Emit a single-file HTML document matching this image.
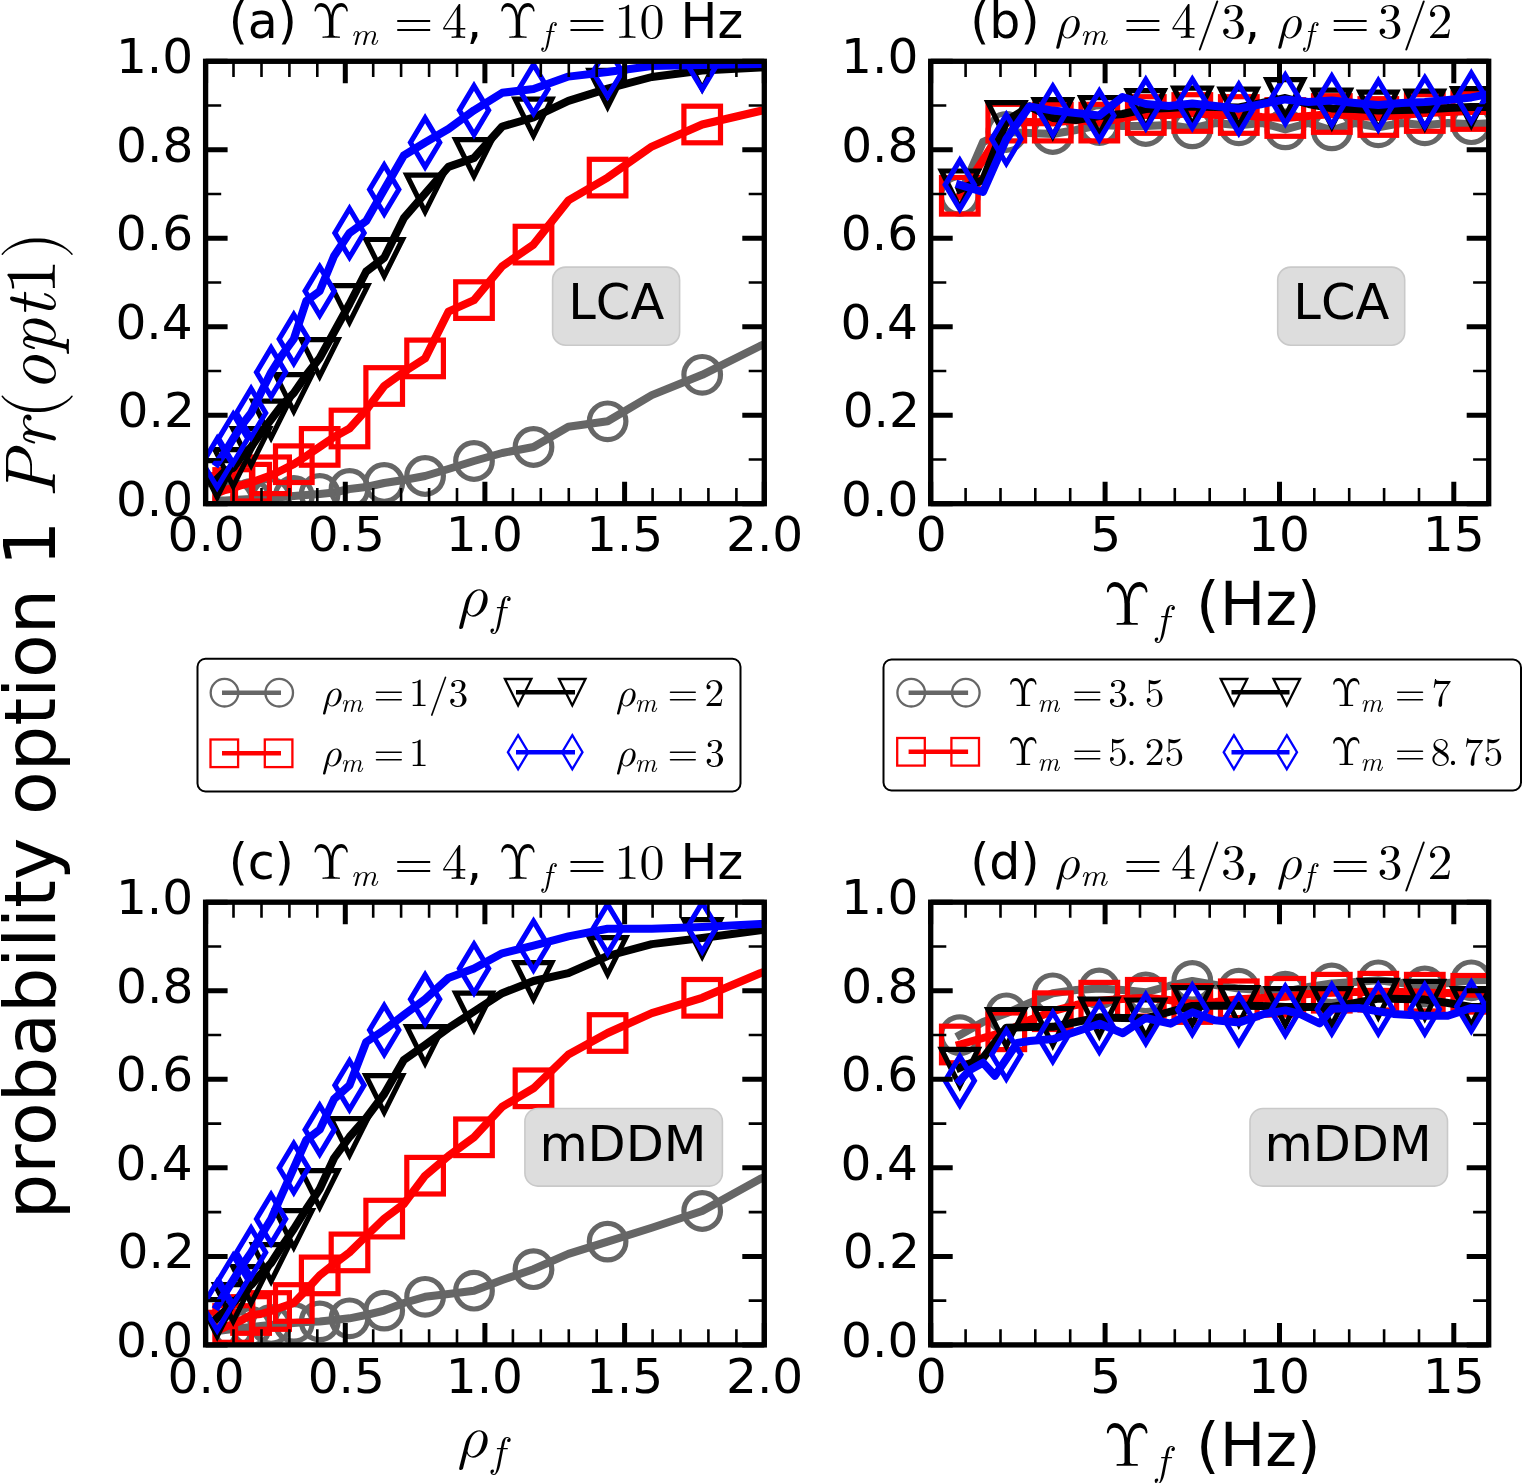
<!DOCTYPE html>
<html><head><meta charset="utf-8"><title>figure</title><style>html,body{margin:0;padding:0;background:#fff;}svg{display:block;}</style></head><body>
<svg width="1524" height="1483" viewBox="0 0 1524 1483">
<rect x="0" y="0" width="1524" height="1483" fill="#ffffff"/>
<defs>
<clipPath id="clipa"><rect x="205.6" y="61.3" width="558.7" height="442.4"/></clipPath>
<clipPath id="clipb"><rect x="930.7" y="61.3" width="558.0" height="442.4"/></clipPath>
<clipPath id="clipc"><rect x="205.6" y="902.2" width="558.7" height="442.7"/></clipPath>
<clipPath id="clipd"><rect x="930.7" y="902.2" width="558.0" height="442.7"/></clipPath>
</defs>
<g clip-path="url(#clipa)">
<polyline points="217.2,500.5 225.0,500.5 233.2,500.0 241.9,499.5 251.1,499.0 260.8,498.5 271.1,498.0 282.1,497.0 293.8,496.0 306.3,495.0 319.7,494.0 334.1,492.5 349.5,489.0 366.2,487.0 384.2,483.0 403.8,480.0 425.1,476.0 448.4,469.0 474.0,461.0 502.2,453.0 533.5,447.0 568.4,426.8 607.6,421.3 651.8,395.1 702.2,374.8 760.1,346.0 827.4,318.0" fill="none" stroke="#666666" stroke-width="8.0" stroke-linejoin="round" stroke-linecap="square"/>
<circle cx="217.2" cy="500.5" r="18.30" fill="none" stroke="#666666" stroke-width="5.2"/>
<circle cx="233.2" cy="500.0" r="18.30" fill="none" stroke="#666666" stroke-width="5.2"/>
<circle cx="251.1" cy="499.0" r="18.30" fill="none" stroke="#666666" stroke-width="5.2"/>
<circle cx="271.1" cy="498.0" r="18.30" fill="none" stroke="#666666" stroke-width="5.2"/>
<circle cx="293.8" cy="496.0" r="18.30" fill="none" stroke="#666666" stroke-width="5.2"/>
<circle cx="319.7" cy="494.0" r="18.30" fill="none" stroke="#666666" stroke-width="5.2"/>
<circle cx="349.5" cy="489.0" r="18.30" fill="none" stroke="#666666" stroke-width="5.2"/>
<circle cx="384.2" cy="483.0" r="18.30" fill="none" stroke="#666666" stroke-width="5.2"/>
<circle cx="425.1" cy="476.0" r="18.30" fill="none" stroke="#666666" stroke-width="5.2"/>
<circle cx="474.0" cy="461.0" r="18.30" fill="none" stroke="#666666" stroke-width="5.2"/>
<circle cx="533.5" cy="447.0" r="18.30" fill="none" stroke="#666666" stroke-width="5.2"/>
<circle cx="607.6" cy="421.3" r="18.30" fill="none" stroke="#666666" stroke-width="5.2"/>
<circle cx="702.2" cy="374.8" r="18.30" fill="none" stroke="#666666" stroke-width="5.2"/>
<circle cx="827.4" cy="318.0" r="18.30" fill="none" stroke="#666666" stroke-width="5.2"/>
<polyline points="217.2,493.0 225.0,490.0 233.2,488.0 241.9,485.0 251.1,482.7 260.8,479.0 271.1,475.3 282.1,470.0 293.8,464.2 306.3,456.0 319.7,446.9 334.1,437.0 349.5,428.5 366.2,410.0 384.2,386.0 403.8,372.0 425.1,358.4 448.4,311.7 474.0,300.1 502.2,266.2 533.5,244.6 568.4,200.4 607.6,177.6 651.8,146.6 702.2,124.5 760.1,111.0 827.4,100.0" fill="none" stroke="#ff0000" stroke-width="8.0" stroke-linejoin="round" stroke-linecap="square"/>
<rect x="198.9" y="474.7" width="36.6" height="36.6" fill="none" stroke="#ff0000" stroke-width="5.2" stroke-linejoin="miter"/>
<rect x="214.9" y="469.7" width="36.6" height="36.6" fill="none" stroke="#ff0000" stroke-width="5.2" stroke-linejoin="miter"/>
<rect x="232.8" y="464.4" width="36.6" height="36.6" fill="none" stroke="#ff0000" stroke-width="5.2" stroke-linejoin="miter"/>
<rect x="252.8" y="457.0" width="36.6" height="36.6" fill="none" stroke="#ff0000" stroke-width="5.2" stroke-linejoin="miter"/>
<rect x="275.5" y="445.9" width="36.6" height="36.6" fill="none" stroke="#ff0000" stroke-width="5.2" stroke-linejoin="miter"/>
<rect x="301.4" y="428.6" width="36.6" height="36.6" fill="none" stroke="#ff0000" stroke-width="5.2" stroke-linejoin="miter"/>
<rect x="331.2" y="410.2" width="36.6" height="36.6" fill="none" stroke="#ff0000" stroke-width="5.2" stroke-linejoin="miter"/>
<rect x="365.9" y="367.7" width="36.6" height="36.6" fill="none" stroke="#ff0000" stroke-width="5.2" stroke-linejoin="miter"/>
<rect x="406.8" y="340.1" width="36.6" height="36.6" fill="none" stroke="#ff0000" stroke-width="5.2" stroke-linejoin="miter"/>
<rect x="455.7" y="281.8" width="36.6" height="36.6" fill="none" stroke="#ff0000" stroke-width="5.2" stroke-linejoin="miter"/>
<rect x="515.2" y="226.3" width="36.6" height="36.6" fill="none" stroke="#ff0000" stroke-width="5.2" stroke-linejoin="miter"/>
<rect x="589.3" y="159.3" width="36.6" height="36.6" fill="none" stroke="#ff0000" stroke-width="5.2" stroke-linejoin="miter"/>
<rect x="683.9" y="106.2" width="36.6" height="36.6" fill="none" stroke="#ff0000" stroke-width="5.2" stroke-linejoin="miter"/>
<rect x="809.1" y="81.7" width="36.6" height="36.6" fill="none" stroke="#ff0000" stroke-width="5.2" stroke-linejoin="miter"/>
<polyline points="217.2,479.0 225.0,471.0 233.2,468.0 241.9,456.0 251.1,447.0 260.8,433.0 271.1,419.5 282.1,405.0 293.8,393.0 306.3,375.0 319.7,358.0 334.1,332.0 349.5,304.0 366.2,271.5 384.2,257.8 403.8,218.2 425.1,193.5 448.4,166.9 474.0,158.0 502.2,126.5 533.5,117.5 568.4,100.9 607.6,88.6 651.8,77.0 702.2,70.5 760.1,67.5 827.4,66.5" fill="none" stroke="#000000" stroke-width="8.0" stroke-linejoin="round" stroke-linecap="square"/>
<polygon points="217.2,497.3 198.9,460.7 235.5,460.7" fill="none" stroke="#000000" stroke-width="5.2" stroke-linejoin="miter" stroke-miterlimit="10"/>
<polygon points="233.2,486.3 214.9,449.7 251.5,449.7" fill="none" stroke="#000000" stroke-width="5.2" stroke-linejoin="miter" stroke-miterlimit="10"/>
<polygon points="251.1,465.3 232.8,428.7 269.4,428.7" fill="none" stroke="#000000" stroke-width="5.2" stroke-linejoin="miter" stroke-miterlimit="10"/>
<polygon points="271.1,437.8 252.8,401.2 289.4,401.2" fill="none" stroke="#000000" stroke-width="5.2" stroke-linejoin="miter" stroke-miterlimit="10"/>
<polygon points="293.8,411.3 275.5,374.7 312.1,374.7" fill="none" stroke="#000000" stroke-width="5.2" stroke-linejoin="miter" stroke-miterlimit="10"/>
<polygon points="319.7,376.3 301.4,339.7 338.0,339.7" fill="none" stroke="#000000" stroke-width="5.2" stroke-linejoin="miter" stroke-miterlimit="10"/>
<polygon points="349.5,322.3 331.2,285.7 367.8,285.7" fill="none" stroke="#000000" stroke-width="5.2" stroke-linejoin="miter" stroke-miterlimit="10"/>
<polygon points="384.2,276.1 365.9,239.5 402.5,239.5" fill="none" stroke="#000000" stroke-width="5.2" stroke-linejoin="miter" stroke-miterlimit="10"/>
<polygon points="425.1,211.8 406.8,175.2 443.4,175.2" fill="none" stroke="#000000" stroke-width="5.2" stroke-linejoin="miter" stroke-miterlimit="10"/>
<polygon points="474.0,176.3 455.7,139.7 492.3,139.7" fill="none" stroke="#000000" stroke-width="5.2" stroke-linejoin="miter" stroke-miterlimit="10"/>
<polygon points="533.5,135.8 515.2,99.2 551.8,99.2" fill="none" stroke="#000000" stroke-width="5.2" stroke-linejoin="miter" stroke-miterlimit="10"/>
<polygon points="607.6,106.9 589.3,70.3 625.9,70.3" fill="none" stroke="#000000" stroke-width="5.2" stroke-linejoin="miter" stroke-miterlimit="10"/>
<polygon points="702.2,88.8 683.9,52.2 720.5,52.2" fill="none" stroke="#000000" stroke-width="5.2" stroke-linejoin="miter" stroke-miterlimit="10"/>
<polygon points="827.4,84.8 809.1,48.2 845.7,48.2" fill="none" stroke="#000000" stroke-width="5.2" stroke-linejoin="miter" stroke-miterlimit="10"/>
<polyline points="217.2,463.0 225.0,452.0 233.2,438.6 241.9,425.0 251.1,413.0 260.8,393.0 271.1,372.3 282.1,355.0 293.8,339.0 306.3,301.0 319.7,291.1 334.1,256.0 349.5,232.9 366.2,221.0 384.2,189.5 403.8,155.5 425.1,142.5 448.4,129.0 474.0,110.3 502.2,92.8 533.5,89.0 568.4,76.6 607.6,72.0 651.8,66.0 702.2,65.0 760.1,64.0 827.4,63.0" fill="none" stroke="#0000ff" stroke-width="8.0" stroke-linejoin="round" stroke-linecap="square"/>
<polygon points="217.2,438.6 231.8,463.0 217.2,487.4 202.6,463.0" fill="none" stroke="#0000ff" stroke-width="5.2" stroke-linejoin="miter" stroke-miterlimit="10"/>
<polygon points="233.2,414.2 247.8,438.6 233.2,463.0 218.6,438.6" fill="none" stroke="#0000ff" stroke-width="5.2" stroke-linejoin="miter" stroke-miterlimit="10"/>
<polygon points="251.1,388.6 265.7,413.0 251.1,437.4 236.5,413.0" fill="none" stroke="#0000ff" stroke-width="5.2" stroke-linejoin="miter" stroke-miterlimit="10"/>
<polygon points="271.1,347.9 285.7,372.3 271.1,396.7 256.5,372.3" fill="none" stroke="#0000ff" stroke-width="5.2" stroke-linejoin="miter" stroke-miterlimit="10"/>
<polygon points="293.8,314.6 308.4,339.0 293.8,363.4 279.2,339.0" fill="none" stroke="#0000ff" stroke-width="5.2" stroke-linejoin="miter" stroke-miterlimit="10"/>
<polygon points="319.7,266.7 334.3,291.1 319.7,315.5 305.1,291.1" fill="none" stroke="#0000ff" stroke-width="5.2" stroke-linejoin="miter" stroke-miterlimit="10"/>
<polygon points="349.5,208.5 364.1,232.9 349.5,257.3 334.9,232.9" fill="none" stroke="#0000ff" stroke-width="5.2" stroke-linejoin="miter" stroke-miterlimit="10"/>
<polygon points="384.2,165.1 398.8,189.5 384.2,213.9 369.6,189.5" fill="none" stroke="#0000ff" stroke-width="5.2" stroke-linejoin="miter" stroke-miterlimit="10"/>
<polygon points="425.1,118.1 439.7,142.5 425.1,166.9 410.5,142.5" fill="none" stroke="#0000ff" stroke-width="5.2" stroke-linejoin="miter" stroke-miterlimit="10"/>
<polygon points="474.0,85.9 488.6,110.3 474.0,134.7 459.4,110.3" fill="none" stroke="#0000ff" stroke-width="5.2" stroke-linejoin="miter" stroke-miterlimit="10"/>
<polygon points="533.5,64.6 548.1,89.0 533.5,113.4 518.9,89.0" fill="none" stroke="#0000ff" stroke-width="5.2" stroke-linejoin="miter" stroke-miterlimit="10"/>
<polygon points="607.6,47.6 622.2,72.0 607.6,96.4 593.0,72.0" fill="none" stroke="#0000ff" stroke-width="5.2" stroke-linejoin="miter" stroke-miterlimit="10"/>
<polygon points="702.2,40.6 716.8,65.0 702.2,89.4 687.6,65.0" fill="none" stroke="#0000ff" stroke-width="5.2" stroke-linejoin="miter" stroke-miterlimit="10"/>
<polygon points="827.4,38.6 842.0,63.0 827.4,87.4 812.8,63.0" fill="none" stroke="#0000ff" stroke-width="5.2" stroke-linejoin="miter" stroke-miterlimit="10"/>
</g>
<g clip-path="url(#clipb)">
<polyline points="959.8,195.8 983.0,142.0 1006.3,132.0 1029.5,133.0 1052.8,134.0 1076.0,130.0 1099.3,125.0 1122.5,126.0 1145.8,126.0 1169.0,125.0 1192.3,128.4 1215.5,123.0 1238.8,125.3 1262.0,123.0 1285.3,129.4 1308.5,123.0 1331.8,130.4 1355.0,123.0 1378.3,127.3 1401.5,123.0 1424.8,125.3 1448.0,123.0 1471.3,124.2 1494.5,123.0" fill="none" stroke="#666666" stroke-width="8.0" stroke-linejoin="round" stroke-linecap="square"/>
<circle cx="959.8" cy="195.8" r="18.30" fill="none" stroke="#666666" stroke-width="5.2"/>
<circle cx="1006.3" cy="132.0" r="18.30" fill="none" stroke="#666666" stroke-width="5.2"/>
<circle cx="1052.8" cy="134.0" r="18.30" fill="none" stroke="#666666" stroke-width="5.2"/>
<circle cx="1099.3" cy="125.0" r="18.30" fill="none" stroke="#666666" stroke-width="5.2"/>
<circle cx="1145.8" cy="126.0" r="18.30" fill="none" stroke="#666666" stroke-width="5.2"/>
<circle cx="1192.3" cy="128.4" r="18.30" fill="none" stroke="#666666" stroke-width="5.2"/>
<circle cx="1238.8" cy="125.3" r="18.30" fill="none" stroke="#666666" stroke-width="5.2"/>
<circle cx="1285.3" cy="129.4" r="18.30" fill="none" stroke="#666666" stroke-width="5.2"/>
<circle cx="1331.8" cy="130.4" r="18.30" fill="none" stroke="#666666" stroke-width="5.2"/>
<circle cx="1378.3" cy="127.3" r="18.30" fill="none" stroke="#666666" stroke-width="5.2"/>
<circle cx="1424.8" cy="125.3" r="18.30" fill="none" stroke="#666666" stroke-width="5.2"/>
<circle cx="1471.3" cy="124.2" r="18.30" fill="none" stroke="#666666" stroke-width="5.2"/>
<polyline points="959.8,195.8 983.0,160.0 1006.3,122.6 1029.5,122.0 1052.8,122.6 1076.0,120.0 1099.3,122.6 1122.5,118.0 1145.8,115.0 1169.0,115.0 1192.3,113.0 1215.5,115.0 1238.8,115.0 1262.0,117.0 1285.3,118.0 1308.5,116.0 1331.8,114.0 1355.0,116.0 1378.3,117.0 1401.5,115.0 1424.8,113.0 1448.0,112.0 1471.3,111.0 1494.5,111.0" fill="none" stroke="#ff0000" stroke-width="8.0" stroke-linejoin="round" stroke-linecap="square"/>
<rect x="941.5" y="177.5" width="36.6" height="36.6" fill="none" stroke="#ff0000" stroke-width="5.2" stroke-linejoin="miter"/>
<rect x="988.0" y="104.3" width="36.6" height="36.6" fill="none" stroke="#ff0000" stroke-width="5.2" stroke-linejoin="miter"/>
<rect x="1034.5" y="104.3" width="36.6" height="36.6" fill="none" stroke="#ff0000" stroke-width="5.2" stroke-linejoin="miter"/>
<rect x="1081.0" y="104.3" width="36.6" height="36.6" fill="none" stroke="#ff0000" stroke-width="5.2" stroke-linejoin="miter"/>
<rect x="1127.5" y="96.7" width="36.6" height="36.6" fill="none" stroke="#ff0000" stroke-width="5.2" stroke-linejoin="miter"/>
<rect x="1174.0" y="94.7" width="36.6" height="36.6" fill="none" stroke="#ff0000" stroke-width="5.2" stroke-linejoin="miter"/>
<rect x="1220.5" y="96.7" width="36.6" height="36.6" fill="none" stroke="#ff0000" stroke-width="5.2" stroke-linejoin="miter"/>
<rect x="1267.0" y="99.7" width="36.6" height="36.6" fill="none" stroke="#ff0000" stroke-width="5.2" stroke-linejoin="miter"/>
<rect x="1313.5" y="95.7" width="36.6" height="36.6" fill="none" stroke="#ff0000" stroke-width="5.2" stroke-linejoin="miter"/>
<rect x="1360.0" y="98.7" width="36.6" height="36.6" fill="none" stroke="#ff0000" stroke-width="5.2" stroke-linejoin="miter"/>
<rect x="1406.5" y="94.7" width="36.6" height="36.6" fill="none" stroke="#ff0000" stroke-width="5.2" stroke-linejoin="miter"/>
<rect x="1453.0" y="92.7" width="36.6" height="36.6" fill="none" stroke="#ff0000" stroke-width="5.2" stroke-linejoin="miter"/>
<polyline points="959.8,189.3 983.0,180.0 1006.3,121.0 1029.5,106.4 1052.8,118.0 1076.0,120.0 1099.3,116.0 1122.5,114.0 1145.8,109.0 1169.0,108.0 1192.3,106.4 1215.5,107.0 1238.8,107.4 1262.0,103.0 1285.3,98.0 1308.5,104.0 1331.8,108.4 1355.0,109.0 1378.3,110.5 1401.5,110.0 1424.8,109.5 1448.0,108.0 1471.3,107.0 1494.5,107.0" fill="none" stroke="#000000" stroke-width="8.0" stroke-linejoin="round" stroke-linecap="square"/>
<polygon points="959.8,207.6 941.5,171.0 978.1,171.0" fill="none" stroke="#000000" stroke-width="5.2" stroke-linejoin="miter" stroke-miterlimit="10"/>
<polygon points="1006.3,139.3 988.0,102.7 1024.6,102.7" fill="none" stroke="#000000" stroke-width="5.2" stroke-linejoin="miter" stroke-miterlimit="10"/>
<polygon points="1052.8,136.3 1034.5,99.7 1071.1,99.7" fill="none" stroke="#000000" stroke-width="5.2" stroke-linejoin="miter" stroke-miterlimit="10"/>
<polygon points="1099.3,134.3 1081.0,97.7 1117.6,97.7" fill="none" stroke="#000000" stroke-width="5.2" stroke-linejoin="miter" stroke-miterlimit="10"/>
<polygon points="1145.8,127.3 1127.5,90.7 1164.1,90.7" fill="none" stroke="#000000" stroke-width="5.2" stroke-linejoin="miter" stroke-miterlimit="10"/>
<polygon points="1192.3,124.7 1174.0,88.1 1210.6,88.1" fill="none" stroke="#000000" stroke-width="5.2" stroke-linejoin="miter" stroke-miterlimit="10"/>
<polygon points="1238.8,125.7 1220.5,89.1 1257.1,89.1" fill="none" stroke="#000000" stroke-width="5.2" stroke-linejoin="miter" stroke-miterlimit="10"/>
<polygon points="1285.3,116.3 1267.0,79.7 1303.6,79.7" fill="none" stroke="#000000" stroke-width="5.2" stroke-linejoin="miter" stroke-miterlimit="10"/>
<polygon points="1331.8,126.7 1313.5,90.1 1350.1,90.1" fill="none" stroke="#000000" stroke-width="5.2" stroke-linejoin="miter" stroke-miterlimit="10"/>
<polygon points="1378.3,128.8 1360.0,92.2 1396.6,92.2" fill="none" stroke="#000000" stroke-width="5.2" stroke-linejoin="miter" stroke-miterlimit="10"/>
<polygon points="1424.8,127.8 1406.5,91.2 1443.1,91.2" fill="none" stroke="#000000" stroke-width="5.2" stroke-linejoin="miter" stroke-miterlimit="10"/>
<polygon points="1471.3,125.3 1453.0,88.7 1489.6,88.7" fill="none" stroke="#000000" stroke-width="5.2" stroke-linejoin="miter" stroke-miterlimit="10"/>
<polyline points="959.8,184.8 983.0,192.0 1006.3,139.1 1029.5,106.4 1052.8,110.6 1076.0,113.0 1099.3,115.5 1122.5,97.0 1145.8,104.0 1169.0,106.0 1192.3,103.6 1215.5,106.0 1238.8,108.7 1262.0,104.0 1285.3,99.4 1308.5,102.0 1331.8,100.5 1355.0,103.0 1378.3,105.0 1401.5,103.0 1424.8,102.1 1448.0,100.0 1471.3,97.4 1494.5,93.0" fill="none" stroke="#0000ff" stroke-width="8.0" stroke-linejoin="round" stroke-linecap="square"/>
<polygon points="959.8,160.4 974.4,184.8 959.8,209.2 945.2,184.8" fill="none" stroke="#0000ff" stroke-width="5.2" stroke-linejoin="miter" stroke-miterlimit="10"/>
<polygon points="1006.3,114.7 1020.9,139.1 1006.3,163.5 991.7,139.1" fill="none" stroke="#0000ff" stroke-width="5.2" stroke-linejoin="miter" stroke-miterlimit="10"/>
<polygon points="1052.8,86.2 1067.4,110.6 1052.8,135.0 1038.2,110.6" fill="none" stroke="#0000ff" stroke-width="5.2" stroke-linejoin="miter" stroke-miterlimit="10"/>
<polygon points="1099.3,91.1 1113.9,115.5 1099.3,139.9 1084.7,115.5" fill="none" stroke="#0000ff" stroke-width="5.2" stroke-linejoin="miter" stroke-miterlimit="10"/>
<polygon points="1145.8,79.6 1160.4,104.0 1145.8,128.4 1131.2,104.0" fill="none" stroke="#0000ff" stroke-width="5.2" stroke-linejoin="miter" stroke-miterlimit="10"/>
<polygon points="1192.3,79.2 1206.9,103.6 1192.3,128.0 1177.7,103.6" fill="none" stroke="#0000ff" stroke-width="5.2" stroke-linejoin="miter" stroke-miterlimit="10"/>
<polygon points="1238.8,84.3 1253.4,108.7 1238.8,133.1 1224.2,108.7" fill="none" stroke="#0000ff" stroke-width="5.2" stroke-linejoin="miter" stroke-miterlimit="10"/>
<polygon points="1285.3,75.0 1299.9,99.4 1285.3,123.8 1270.7,99.4" fill="none" stroke="#0000ff" stroke-width="5.2" stroke-linejoin="miter" stroke-miterlimit="10"/>
<polygon points="1331.8,76.1 1346.4,100.5 1331.8,124.9 1317.2,100.5" fill="none" stroke="#0000ff" stroke-width="5.2" stroke-linejoin="miter" stroke-miterlimit="10"/>
<polygon points="1378.3,80.6 1392.9,105.0 1378.3,129.4 1363.7,105.0" fill="none" stroke="#0000ff" stroke-width="5.2" stroke-linejoin="miter" stroke-miterlimit="10"/>
<polygon points="1424.8,77.7 1439.4,102.1 1424.8,126.5 1410.2,102.1" fill="none" stroke="#0000ff" stroke-width="5.2" stroke-linejoin="miter" stroke-miterlimit="10"/>
<polygon points="1471.3,73.0 1485.9,97.4 1471.3,121.8 1456.7,97.4" fill="none" stroke="#0000ff" stroke-width="5.2" stroke-linejoin="miter" stroke-miterlimit="10"/>
</g>
<g clip-path="url(#clipc)">
<polyline points="217.2,1331.0 225.0,1330.0 233.2,1329.0 241.9,1328.0 251.1,1327.0 260.8,1326.0 271.1,1325.0 282.1,1324.0 293.8,1322.9 306.3,1322.0 319.7,1321.4 334.1,1320.0 349.5,1318.3 366.2,1315.0 384.2,1310.6 403.8,1303.0 425.1,1296.8 448.4,1294.0 474.0,1290.7 502.2,1280.0 533.5,1269.2 568.4,1253.9 607.6,1241.6 651.8,1227.8 702.2,1211.0 760.1,1179.0 827.4,1150.0" fill="none" stroke="#666666" stroke-width="8.0" stroke-linejoin="round" stroke-linecap="square"/>
<circle cx="217.2" cy="1331.0" r="18.30" fill="none" stroke="#666666" stroke-width="5.2"/>
<circle cx="233.2" cy="1329.0" r="18.30" fill="none" stroke="#666666" stroke-width="5.2"/>
<circle cx="251.1" cy="1327.0" r="18.30" fill="none" stroke="#666666" stroke-width="5.2"/>
<circle cx="271.1" cy="1325.0" r="18.30" fill="none" stroke="#666666" stroke-width="5.2"/>
<circle cx="293.8" cy="1322.9" r="18.30" fill="none" stroke="#666666" stroke-width="5.2"/>
<circle cx="319.7" cy="1321.4" r="18.30" fill="none" stroke="#666666" stroke-width="5.2"/>
<circle cx="349.5" cy="1318.3" r="18.30" fill="none" stroke="#666666" stroke-width="5.2"/>
<circle cx="384.2" cy="1310.6" r="18.30" fill="none" stroke="#666666" stroke-width="5.2"/>
<circle cx="425.1" cy="1296.8" r="18.30" fill="none" stroke="#666666" stroke-width="5.2"/>
<circle cx="474.0" cy="1290.7" r="18.30" fill="none" stroke="#666666" stroke-width="5.2"/>
<circle cx="533.5" cy="1269.2" r="18.30" fill="none" stroke="#666666" stroke-width="5.2"/>
<circle cx="607.6" cy="1241.6" r="18.30" fill="none" stroke="#666666" stroke-width="5.2"/>
<circle cx="702.2" cy="1211.0" r="18.30" fill="none" stroke="#666666" stroke-width="5.2"/>
<circle cx="827.4" cy="1150.0" r="18.30" fill="none" stroke="#666666" stroke-width="5.2"/>
<polyline points="217.2,1330.6 225.0,1327.0 233.2,1324.0 241.9,1320.0 251.1,1315.0 260.8,1314.0 271.1,1311.0 282.1,1307.0 293.8,1303.0 306.3,1290.0 319.7,1275.4 334.1,1264.0 349.5,1252.4 366.2,1236.0 384.2,1218.6 403.8,1204.0 425.1,1175.7 448.4,1156.0 474.0,1137.3 502.2,1106.7 533.5,1088.3 568.4,1054.5 607.6,1033.0 651.8,1013.1 702.2,997.8 760.1,973.2 827.4,950.0" fill="none" stroke="#ff0000" stroke-width="8.0" stroke-linejoin="round" stroke-linecap="square"/>
<rect x="198.9" y="1312.3" width="36.6" height="36.6" fill="none" stroke="#ff0000" stroke-width="5.2" stroke-linejoin="miter"/>
<rect x="214.9" y="1305.7" width="36.6" height="36.6" fill="none" stroke="#ff0000" stroke-width="5.2" stroke-linejoin="miter"/>
<rect x="232.8" y="1296.7" width="36.6" height="36.6" fill="none" stroke="#ff0000" stroke-width="5.2" stroke-linejoin="miter"/>
<rect x="252.8" y="1292.7" width="36.6" height="36.6" fill="none" stroke="#ff0000" stroke-width="5.2" stroke-linejoin="miter"/>
<rect x="275.5" y="1284.7" width="36.6" height="36.6" fill="none" stroke="#ff0000" stroke-width="5.2" stroke-linejoin="miter"/>
<rect x="301.4" y="1257.1" width="36.6" height="36.6" fill="none" stroke="#ff0000" stroke-width="5.2" stroke-linejoin="miter"/>
<rect x="331.2" y="1234.1" width="36.6" height="36.6" fill="none" stroke="#ff0000" stroke-width="5.2" stroke-linejoin="miter"/>
<rect x="365.9" y="1200.3" width="36.6" height="36.6" fill="none" stroke="#ff0000" stroke-width="5.2" stroke-linejoin="miter"/>
<rect x="406.8" y="1157.4" width="36.6" height="36.6" fill="none" stroke="#ff0000" stroke-width="5.2" stroke-linejoin="miter"/>
<rect x="455.7" y="1119.0" width="36.6" height="36.6" fill="none" stroke="#ff0000" stroke-width="5.2" stroke-linejoin="miter"/>
<rect x="515.2" y="1070.0" width="36.6" height="36.6" fill="none" stroke="#ff0000" stroke-width="5.2" stroke-linejoin="miter"/>
<rect x="589.3" y="1014.7" width="36.6" height="36.6" fill="none" stroke="#ff0000" stroke-width="5.2" stroke-linejoin="miter"/>
<rect x="683.9" y="979.5" width="36.6" height="36.6" fill="none" stroke="#ff0000" stroke-width="5.2" stroke-linejoin="miter"/>
<rect x="809.1" y="931.7" width="36.6" height="36.6" fill="none" stroke="#ff0000" stroke-width="5.2" stroke-linejoin="miter"/>
<polyline points="217.2,1318.0 225.0,1311.0 233.2,1303.0 241.9,1294.0 251.1,1285.0 260.8,1274.0 271.1,1263.0 282.1,1246.0 293.8,1229.0 306.3,1209.0 319.7,1189.0 334.1,1158.0 349.5,1137.0 366.2,1118.0 384.2,1094.0 403.8,1060.0 425.1,1045.0 448.4,1028.0 474.0,1011.5 502.2,993.2 533.5,981.0 568.4,973.2 607.6,956.0 651.8,944.1 702.2,938.0 760.1,930.3 827.4,927.0" fill="none" stroke="#000000" stroke-width="8.0" stroke-linejoin="round" stroke-linecap="square"/>
<polygon points="217.2,1336.3 198.9,1299.7 235.5,1299.7" fill="none" stroke="#000000" stroke-width="5.2" stroke-linejoin="miter" stroke-miterlimit="10"/>
<polygon points="233.2,1321.3 214.9,1284.7 251.5,1284.7" fill="none" stroke="#000000" stroke-width="5.2" stroke-linejoin="miter" stroke-miterlimit="10"/>
<polygon points="251.1,1303.3 232.8,1266.7 269.4,1266.7" fill="none" stroke="#000000" stroke-width="5.2" stroke-linejoin="miter" stroke-miterlimit="10"/>
<polygon points="271.1,1281.3 252.8,1244.7 289.4,1244.7" fill="none" stroke="#000000" stroke-width="5.2" stroke-linejoin="miter" stroke-miterlimit="10"/>
<polygon points="293.8,1247.3 275.5,1210.7 312.1,1210.7" fill="none" stroke="#000000" stroke-width="5.2" stroke-linejoin="miter" stroke-miterlimit="10"/>
<polygon points="319.7,1207.3 301.4,1170.7 338.0,1170.7" fill="none" stroke="#000000" stroke-width="5.2" stroke-linejoin="miter" stroke-miterlimit="10"/>
<polygon points="349.5,1155.3 331.2,1118.7 367.8,1118.7" fill="none" stroke="#000000" stroke-width="5.2" stroke-linejoin="miter" stroke-miterlimit="10"/>
<polygon points="384.2,1112.3 365.9,1075.7 402.5,1075.7" fill="none" stroke="#000000" stroke-width="5.2" stroke-linejoin="miter" stroke-miterlimit="10"/>
<polygon points="425.1,1063.3 406.8,1026.7 443.4,1026.7" fill="none" stroke="#000000" stroke-width="5.2" stroke-linejoin="miter" stroke-miterlimit="10"/>
<polygon points="474.0,1029.8 455.7,993.2 492.3,993.2" fill="none" stroke="#000000" stroke-width="5.2" stroke-linejoin="miter" stroke-miterlimit="10"/>
<polygon points="533.5,999.3 515.2,962.7 551.8,962.7" fill="none" stroke="#000000" stroke-width="5.2" stroke-linejoin="miter" stroke-miterlimit="10"/>
<polygon points="607.6,974.3 589.3,937.7 625.9,937.7" fill="none" stroke="#000000" stroke-width="5.2" stroke-linejoin="miter" stroke-miterlimit="10"/>
<polygon points="702.2,956.3 683.9,919.7 720.5,919.7" fill="none" stroke="#000000" stroke-width="5.2" stroke-linejoin="miter" stroke-miterlimit="10"/>
<polygon points="827.4,945.3 809.1,908.7 845.7,908.7" fill="none" stroke="#000000" stroke-width="5.2" stroke-linejoin="miter" stroke-miterlimit="10"/>
<polyline points="217.2,1306.0 225.0,1293.0 233.2,1280.0 241.9,1266.0 251.1,1252.5 260.8,1236.0 271.1,1219.0 282.1,1194.0 293.8,1168.0 306.3,1140.0 319.7,1129.7 334.1,1099.0 349.5,1085.2 366.2,1042.0 384.2,1030.0 403.8,1015.0 425.1,999.3 448.4,978.0 474.0,968.6 502.2,953.3 533.5,945.6 568.4,936.4 607.6,928.7 651.8,928.7 702.2,927.0 760.1,924.1 827.4,922.0" fill="none" stroke="#0000ff" stroke-width="8.0" stroke-linejoin="round" stroke-linecap="square"/>
<polygon points="217.2,1281.6 231.8,1306.0 217.2,1330.4 202.6,1306.0" fill="none" stroke="#0000ff" stroke-width="5.2" stroke-linejoin="miter" stroke-miterlimit="10"/>
<polygon points="233.2,1255.6 247.8,1280.0 233.2,1304.4 218.6,1280.0" fill="none" stroke="#0000ff" stroke-width="5.2" stroke-linejoin="miter" stroke-miterlimit="10"/>
<polygon points="251.1,1228.1 265.7,1252.5 251.1,1276.9 236.5,1252.5" fill="none" stroke="#0000ff" stroke-width="5.2" stroke-linejoin="miter" stroke-miterlimit="10"/>
<polygon points="271.1,1194.6 285.7,1219.0 271.1,1243.4 256.5,1219.0" fill="none" stroke="#0000ff" stroke-width="5.2" stroke-linejoin="miter" stroke-miterlimit="10"/>
<polygon points="293.8,1143.6 308.4,1168.0 293.8,1192.4 279.2,1168.0" fill="none" stroke="#0000ff" stroke-width="5.2" stroke-linejoin="miter" stroke-miterlimit="10"/>
<polygon points="319.7,1105.3 334.3,1129.7 319.7,1154.1 305.1,1129.7" fill="none" stroke="#0000ff" stroke-width="5.2" stroke-linejoin="miter" stroke-miterlimit="10"/>
<polygon points="349.5,1060.8 364.1,1085.2 349.5,1109.6 334.9,1085.2" fill="none" stroke="#0000ff" stroke-width="5.2" stroke-linejoin="miter" stroke-miterlimit="10"/>
<polygon points="384.2,1005.6 398.8,1030.0 384.2,1054.4 369.6,1030.0" fill="none" stroke="#0000ff" stroke-width="5.2" stroke-linejoin="miter" stroke-miterlimit="10"/>
<polygon points="425.1,974.9 439.7,999.3 425.1,1023.7 410.5,999.3" fill="none" stroke="#0000ff" stroke-width="5.2" stroke-linejoin="miter" stroke-miterlimit="10"/>
<polygon points="474.0,944.2 488.6,968.6 474.0,993.0 459.4,968.6" fill="none" stroke="#0000ff" stroke-width="5.2" stroke-linejoin="miter" stroke-miterlimit="10"/>
<polygon points="533.5,921.2 548.1,945.6 533.5,970.0 518.9,945.6" fill="none" stroke="#0000ff" stroke-width="5.2" stroke-linejoin="miter" stroke-miterlimit="10"/>
<polygon points="607.6,904.3 622.2,928.7 607.6,953.1 593.0,928.7" fill="none" stroke="#0000ff" stroke-width="5.2" stroke-linejoin="miter" stroke-miterlimit="10"/>
<polygon points="702.2,902.6 716.8,927.0 702.2,951.4 687.6,927.0" fill="none" stroke="#0000ff" stroke-width="5.2" stroke-linejoin="miter" stroke-miterlimit="10"/>
<polygon points="827.4,897.6 842.0,922.0 827.4,946.4 812.8,922.0" fill="none" stroke="#0000ff" stroke-width="5.2" stroke-linejoin="miter" stroke-miterlimit="10"/>
</g>
<g clip-path="url(#clipd)">
<polyline points="959.8,1035.1 983.0,1022.0 1006.3,1013.3 1029.5,1003.0 1052.8,993.3 1076.0,990.0 1099.3,988.5 1122.5,990.0 1145.8,992.3 1169.0,986.0 1192.3,980.9 1215.5,985.0 1238.8,988.6 1262.0,990.0 1285.3,991.7 1308.5,987.0 1331.8,983.4 1355.0,982.0 1378.3,980.3 1401.5,983.0 1424.8,986.5 1448.0,983.0 1471.3,980.3 1494.5,980.0" fill="none" stroke="#666666" stroke-width="8.0" stroke-linejoin="round" stroke-linecap="square"/>
<circle cx="959.8" cy="1035.1" r="18.30" fill="none" stroke="#666666" stroke-width="5.2"/>
<circle cx="1006.3" cy="1013.3" r="18.30" fill="none" stroke="#666666" stroke-width="5.2"/>
<circle cx="1052.8" cy="993.3" r="18.30" fill="none" stroke="#666666" stroke-width="5.2"/>
<circle cx="1099.3" cy="988.5" r="18.30" fill="none" stroke="#666666" stroke-width="5.2"/>
<circle cx="1145.8" cy="992.3" r="18.30" fill="none" stroke="#666666" stroke-width="5.2"/>
<circle cx="1192.3" cy="980.9" r="18.30" fill="none" stroke="#666666" stroke-width="5.2"/>
<circle cx="1238.8" cy="988.6" r="18.30" fill="none" stroke="#666666" stroke-width="5.2"/>
<circle cx="1285.3" cy="991.7" r="18.30" fill="none" stroke="#666666" stroke-width="5.2"/>
<circle cx="1331.8" cy="983.4" r="18.30" fill="none" stroke="#666666" stroke-width="5.2"/>
<circle cx="1378.3" cy="980.3" r="18.30" fill="none" stroke="#666666" stroke-width="5.2"/>
<circle cx="1424.8" cy="986.5" r="18.30" fill="none" stroke="#666666" stroke-width="5.2"/>
<circle cx="1471.3" cy="980.3" r="18.30" fill="none" stroke="#666666" stroke-width="5.2"/>
<polyline points="959.8,1044.5 983.0,1038.0 1006.3,1031.3 1029.5,1020.0 1052.8,1011.2 1076.0,1005.0 1099.3,1000.7 1122.5,999.0 1145.8,997.8 1169.0,1000.0 1192.3,1004.0 1215.5,1002.0 1238.8,999.3 1262.0,998.0 1285.3,996.8 1308.5,994.0 1331.8,992.7 1355.0,992.0 1378.3,991.7 1401.5,992.0 1424.8,992.7 1448.0,993.0 1471.3,993.8 1494.5,994.0" fill="none" stroke="#ff0000" stroke-width="8.0" stroke-linejoin="round" stroke-linecap="square"/>
<rect x="941.5" y="1026.2" width="36.6" height="36.6" fill="none" stroke="#ff0000" stroke-width="5.2" stroke-linejoin="miter"/>
<rect x="988.0" y="1013.0" width="36.6" height="36.6" fill="none" stroke="#ff0000" stroke-width="5.2" stroke-linejoin="miter"/>
<rect x="1034.5" y="992.9" width="36.6" height="36.6" fill="none" stroke="#ff0000" stroke-width="5.2" stroke-linejoin="miter"/>
<rect x="1081.0" y="982.4" width="36.6" height="36.6" fill="none" stroke="#ff0000" stroke-width="5.2" stroke-linejoin="miter"/>
<rect x="1127.5" y="979.5" width="36.6" height="36.6" fill="none" stroke="#ff0000" stroke-width="5.2" stroke-linejoin="miter"/>
<rect x="1174.0" y="985.7" width="36.6" height="36.6" fill="none" stroke="#ff0000" stroke-width="5.2" stroke-linejoin="miter"/>
<rect x="1220.5" y="981.0" width="36.6" height="36.6" fill="none" stroke="#ff0000" stroke-width="5.2" stroke-linejoin="miter"/>
<rect x="1267.0" y="978.5" width="36.6" height="36.6" fill="none" stroke="#ff0000" stroke-width="5.2" stroke-linejoin="miter"/>
<rect x="1313.5" y="974.4" width="36.6" height="36.6" fill="none" stroke="#ff0000" stroke-width="5.2" stroke-linejoin="miter"/>
<rect x="1360.0" y="973.4" width="36.6" height="36.6" fill="none" stroke="#ff0000" stroke-width="5.2" stroke-linejoin="miter"/>
<rect x="1406.5" y="974.4" width="36.6" height="36.6" fill="none" stroke="#ff0000" stroke-width="5.2" stroke-linejoin="miter"/>
<rect x="1453.0" y="975.5" width="36.6" height="36.6" fill="none" stroke="#ff0000" stroke-width="5.2" stroke-linejoin="miter"/>
<polyline points="959.8,1067.7 983.0,1058.0 1006.3,1027.8 1029.5,1027.0 1052.8,1026.8 1076.0,1022.0 1099.3,1017.3 1122.5,1018.0 1145.8,1018.3 1169.0,1012.0 1192.3,1005.9 1215.5,1005.8 1238.8,1005.8 1262.0,1006.0 1285.3,1006.9 1308.5,1007.0 1331.8,1006.9 1355.0,1003.0 1378.3,998.6 1401.5,999.0 1424.8,999.6 1448.0,1003.0 1471.3,1006.9 1494.5,1007.0" fill="none" stroke="#000000" stroke-width="8.0" stroke-linejoin="round" stroke-linecap="square"/>
<polygon points="959.8,1086.0 941.5,1049.4 978.1,1049.4" fill="none" stroke="#000000" stroke-width="5.2" stroke-linejoin="miter" stroke-miterlimit="10"/>
<polygon points="1006.3,1046.1 988.0,1009.5 1024.6,1009.5" fill="none" stroke="#000000" stroke-width="5.2" stroke-linejoin="miter" stroke-miterlimit="10"/>
<polygon points="1052.8,1045.1 1034.5,1008.5 1071.1,1008.5" fill="none" stroke="#000000" stroke-width="5.2" stroke-linejoin="miter" stroke-miterlimit="10"/>
<polygon points="1099.3,1035.6 1081.0,999.0 1117.6,999.0" fill="none" stroke="#000000" stroke-width="5.2" stroke-linejoin="miter" stroke-miterlimit="10"/>
<polygon points="1145.8,1036.6 1127.5,1000.0 1164.1,1000.0" fill="none" stroke="#000000" stroke-width="5.2" stroke-linejoin="miter" stroke-miterlimit="10"/>
<polygon points="1192.3,1024.2 1174.0,987.6 1210.6,987.6" fill="none" stroke="#000000" stroke-width="5.2" stroke-linejoin="miter" stroke-miterlimit="10"/>
<polygon points="1238.8,1024.1 1220.5,987.5 1257.1,987.5" fill="none" stroke="#000000" stroke-width="5.2" stroke-linejoin="miter" stroke-miterlimit="10"/>
<polygon points="1285.3,1025.2 1267.0,988.6 1303.6,988.6" fill="none" stroke="#000000" stroke-width="5.2" stroke-linejoin="miter" stroke-miterlimit="10"/>
<polygon points="1331.8,1025.2 1313.5,988.6 1350.1,988.6" fill="none" stroke="#000000" stroke-width="5.2" stroke-linejoin="miter" stroke-miterlimit="10"/>
<polygon points="1378.3,1016.9 1360.0,980.3 1396.6,980.3" fill="none" stroke="#000000" stroke-width="5.2" stroke-linejoin="miter" stroke-miterlimit="10"/>
<polygon points="1424.8,1017.9 1406.5,981.3 1443.1,981.3" fill="none" stroke="#000000" stroke-width="5.2" stroke-linejoin="miter" stroke-miterlimit="10"/>
<polygon points="1471.3,1025.2 1453.0,988.6 1489.6,988.6" fill="none" stroke="#000000" stroke-width="5.2" stroke-linejoin="miter" stroke-miterlimit="10"/>
<polyline points="959.8,1080.8 969.9,1069.9 983.1,1062.7 994.9,1075.8 1017.2,1043.0 1029.5,1041.0 1053.5,1039.0 1077.2,1031.3 1099.7,1023.7 1122.9,1033.2 1145.7,1018.0 1170.5,1023.7 1192.4,1012.3 1214.6,1020.3 1239.3,1022.4 1264.0,1014.0 1285.5,1010.4 1300.0,1014.0 1319.6,1023.5 1332.2,1008.8 1358.7,1008.0 1393.6,1013.9 1422.6,1015.8 1447.8,1015.8 1471.0,1008.0 1495.0,1009.0" fill="none" stroke="#0000ff" stroke-width="8.0" stroke-linejoin="round" stroke-linecap="square"/>
<polygon points="959.8,1056.4 974.4,1080.8 959.8,1105.2 945.2,1080.8" fill="none" stroke="#0000ff" stroke-width="5.2" stroke-linejoin="miter" stroke-miterlimit="10"/>
<polygon points="1006.3,1030.2 1020.9,1054.6 1006.3,1079.0 991.7,1054.6" fill="none" stroke="#0000ff" stroke-width="5.2" stroke-linejoin="miter" stroke-miterlimit="10"/>
<polygon points="1052.8,1012.6 1067.4,1037.0 1052.8,1061.4 1038.2,1037.0" fill="none" stroke="#0000ff" stroke-width="5.2" stroke-linejoin="miter" stroke-miterlimit="10"/>
<polygon points="1099.3,1003.1 1113.9,1027.5 1099.3,1051.9 1084.7,1027.5" fill="none" stroke="#0000ff" stroke-width="5.2" stroke-linejoin="miter" stroke-miterlimit="10"/>
<polygon points="1145.8,994.6 1160.4,1019.0 1145.8,1043.4 1131.2,1019.0" fill="none" stroke="#0000ff" stroke-width="5.2" stroke-linejoin="miter" stroke-miterlimit="10"/>
<polygon points="1192.3,985.4 1206.9,1009.8 1192.3,1034.2 1177.7,1009.8" fill="none" stroke="#0000ff" stroke-width="5.2" stroke-linejoin="miter" stroke-miterlimit="10"/>
<polygon points="1238.8,995.2 1253.4,1019.6 1238.8,1044.0 1224.2,1019.6" fill="none" stroke="#0000ff" stroke-width="5.2" stroke-linejoin="miter" stroke-miterlimit="10"/>
<polygon points="1285.3,986.3 1299.9,1010.7 1285.3,1035.1 1270.7,1010.7" fill="none" stroke="#0000ff" stroke-width="5.2" stroke-linejoin="miter" stroke-miterlimit="10"/>
<polygon points="1331.8,984.8 1346.4,1009.2 1331.8,1033.6 1317.2,1009.2" fill="none" stroke="#0000ff" stroke-width="5.2" stroke-linejoin="miter" stroke-miterlimit="10"/>
<polygon points="1378.3,984.8 1392.9,1009.2 1378.3,1033.6 1363.7,1009.2" fill="none" stroke="#0000ff" stroke-width="5.2" stroke-linejoin="miter" stroke-miterlimit="10"/>
<polygon points="1424.8,984.8 1439.4,1009.2 1424.8,1033.6 1410.2,1009.2" fill="none" stroke="#0000ff" stroke-width="5.2" stroke-linejoin="miter" stroke-miterlimit="10"/>
<polygon points="1471.3,982.2 1485.9,1006.6 1471.3,1031.0 1456.7,1006.6" fill="none" stroke="#0000ff" stroke-width="5.2" stroke-linejoin="miter" stroke-miterlimit="10"/>
</g>
<rect x="552.6" y="267.1" width="127.0" height="78.1" rx="13" ry="13" fill="#dddddd" stroke="#c9c9c9" stroke-width="1.6"/>
<rect x="1277.7" y="267.1" width="127.0" height="78.1" rx="13" ry="13" fill="#dddddd" stroke="#c9c9c9" stroke-width="1.6"/>
<rect x="524.9" y="1108.5" width="197.5" height="77.6" rx="13" ry="13" fill="#dddddd" stroke="#c9c9c9" stroke-width="1.6"/>
<rect x="1250.0" y="1108.5" width="197.5" height="77.6" rx="13" ry="13" fill="#dddddd" stroke="#c9c9c9" stroke-width="1.6"/>
<path d="M233.5,503.7v-15.6M233.5,61.3v15.6M261.5,503.7v-15.6M261.5,61.3v15.6M289.4,503.7v-15.6M289.4,61.3v15.6M317.3,503.7v-15.6M317.3,61.3v15.6M373.2,503.7v-15.6M373.2,61.3v15.6M401.1,503.7v-15.6M401.1,61.3v15.6M429.1,503.7v-15.6M429.1,61.3v15.6M457.0,503.7v-15.6M457.0,61.3v15.6M512.9,503.7v-15.6M512.9,61.3v15.6M540.8,503.7v-15.6M540.8,61.3v15.6M568.8,503.7v-15.6M568.8,61.3v15.6M596.7,503.7v-15.6M596.7,61.3v15.6M652.6,503.7v-15.6M652.6,61.3v15.6M680.5,503.7v-15.6M680.5,61.3v15.6M708.4,503.7v-15.6M708.4,61.3v15.6M736.4,503.7v-15.6M736.4,61.3v15.6M205.6,459.5h15.6M764.3,459.5h-15.6M205.6,371.0h15.6M764.3,371.0h-15.6M205.6,282.5h15.6M764.3,282.5h-15.6M205.6,194.0h15.6M764.3,194.0h-15.6M205.6,105.5h15.6M764.3,105.5h-15.6" stroke="#000" stroke-width="2.6" fill="none"/>
<path d="M205.6,503.7v-22.0M205.6,61.3v22.0M345.3,503.7v-22.0M345.3,61.3v22.0M484.9,503.7v-22.0M484.9,61.3v22.0M624.6,503.7v-22.0M624.6,61.3v22.0M764.3,503.7v-22.0M764.3,61.3v22.0M205.6,503.7h22.0M764.3,503.7h-22.0M205.6,415.2h22.0M764.3,415.2h-22.0M205.6,326.7h22.0M764.3,326.7h-22.0M205.6,238.3h22.0M764.3,238.3h-22.0M205.6,149.8h22.0M764.3,149.8h-22.0M205.6,61.3h22.0M764.3,61.3h-22.0" stroke="#000" stroke-width="5.0" fill="none"/>
<rect x="205.6" y="61.3" width="558.7" height="442.4" fill="none" stroke="#000" stroke-width="5.3" stroke-linejoin="miter"/>
<path d="M965.6,503.7v-15.6M965.6,61.3v15.6M1000.5,503.7v-15.6M1000.5,61.3v15.6M1035.3,503.7v-15.6M1035.3,61.3v15.6M1070.2,503.7v-15.6M1070.2,61.3v15.6M1140.0,503.7v-15.6M1140.0,61.3v15.6M1174.8,503.7v-15.6M1174.8,61.3v15.6M1209.7,503.7v-15.6M1209.7,61.3v15.6M1244.6,503.7v-15.6M1244.6,61.3v15.6M1314.3,503.7v-15.6M1314.3,61.3v15.6M1349.2,503.7v-15.6M1349.2,61.3v15.6M1384.1,503.7v-15.6M1384.1,61.3v15.6M1419.0,503.7v-15.6M1419.0,61.3v15.6M1488.7,503.7v-15.6M1488.7,61.3v15.6M930.7,459.5h15.6M1488.7,459.5h-15.6M930.7,371.0h15.6M1488.7,371.0h-15.6M930.7,282.5h15.6M1488.7,282.5h-15.6M930.7,194.0h15.6M1488.7,194.0h-15.6M930.7,105.5h15.6M1488.7,105.5h-15.6" stroke="#000" stroke-width="2.6" fill="none"/>
<path d="M930.7,503.7v-22.0M930.7,61.3v22.0M1105.1,503.7v-22.0M1105.1,61.3v22.0M1279.5,503.7v-22.0M1279.5,61.3v22.0M1453.8,503.7v-22.0M1453.8,61.3v22.0M930.7,503.7h22.0M1488.7,503.7h-22.0M930.7,415.2h22.0M1488.7,415.2h-22.0M930.7,326.7h22.0M1488.7,326.7h-22.0M930.7,238.3h22.0M1488.7,238.3h-22.0M930.7,149.8h22.0M1488.7,149.8h-22.0M930.7,61.3h22.0M1488.7,61.3h-22.0" stroke="#000" stroke-width="5.0" fill="none"/>
<rect x="930.7" y="61.3" width="558.0" height="442.4" fill="none" stroke="#000" stroke-width="5.3" stroke-linejoin="miter"/>
<path d="M233.5,1344.9v-15.6M233.5,902.2v15.6M261.5,1344.9v-15.6M261.5,902.2v15.6M289.4,1344.9v-15.6M289.4,902.2v15.6M317.3,1344.9v-15.6M317.3,902.2v15.6M373.2,1344.9v-15.6M373.2,902.2v15.6M401.1,1344.9v-15.6M401.1,902.2v15.6M429.1,1344.9v-15.6M429.1,902.2v15.6M457.0,1344.9v-15.6M457.0,902.2v15.6M512.9,1344.9v-15.6M512.9,902.2v15.6M540.8,1344.9v-15.6M540.8,902.2v15.6M568.8,1344.9v-15.6M568.8,902.2v15.6M596.7,1344.9v-15.6M596.7,902.2v15.6M652.6,1344.9v-15.6M652.6,902.2v15.6M680.5,1344.9v-15.6M680.5,902.2v15.6M708.4,1344.9v-15.6M708.4,902.2v15.6M736.4,1344.9v-15.6M736.4,902.2v15.6M205.6,1300.6h15.6M764.3,1300.6h-15.6M205.6,1212.1h15.6M764.3,1212.1h-15.6M205.6,1123.6h15.6M764.3,1123.6h-15.6M205.6,1035.0h15.6M764.3,1035.0h-15.6M205.6,946.5h15.6M764.3,946.5h-15.6" stroke="#000" stroke-width="2.6" fill="none"/>
<path d="M205.6,1344.9v-22.0M205.6,902.2v22.0M345.3,1344.9v-22.0M345.3,902.2v22.0M484.9,1344.9v-22.0M484.9,902.2v22.0M624.6,1344.9v-22.0M624.6,902.2v22.0M764.3,1344.9v-22.0M764.3,902.2v22.0M205.6,1344.9h22.0M764.3,1344.9h-22.0M205.6,1256.4h22.0M764.3,1256.4h-22.0M205.6,1167.8h22.0M764.3,1167.8h-22.0M205.6,1079.3h22.0M764.3,1079.3h-22.0M205.6,990.7h22.0M764.3,990.7h-22.0M205.6,902.2h22.0M764.3,902.2h-22.0" stroke="#000" stroke-width="5.0" fill="none"/>
<rect x="205.6" y="902.2" width="558.7" height="442.7" fill="none" stroke="#000" stroke-width="5.3" stroke-linejoin="miter"/>
<path d="M965.6,1344.9v-15.6M965.6,902.2v15.6M1000.5,1344.9v-15.6M1000.5,902.2v15.6M1035.3,1344.9v-15.6M1035.3,902.2v15.6M1070.2,1344.9v-15.6M1070.2,902.2v15.6M1140.0,1344.9v-15.6M1140.0,902.2v15.6M1174.8,1344.9v-15.6M1174.8,902.2v15.6M1209.7,1344.9v-15.6M1209.7,902.2v15.6M1244.6,1344.9v-15.6M1244.6,902.2v15.6M1314.3,1344.9v-15.6M1314.3,902.2v15.6M1349.2,1344.9v-15.6M1349.2,902.2v15.6M1384.1,1344.9v-15.6M1384.1,902.2v15.6M1419.0,1344.9v-15.6M1419.0,902.2v15.6M1488.7,1344.9v-15.6M1488.7,902.2v15.6M930.7,1300.6h15.6M1488.7,1300.6h-15.6M930.7,1212.1h15.6M1488.7,1212.1h-15.6M930.7,1123.6h15.6M1488.7,1123.6h-15.6M930.7,1035.0h15.6M1488.7,1035.0h-15.6M930.7,946.5h15.6M1488.7,946.5h-15.6" stroke="#000" stroke-width="2.6" fill="none"/>
<path d="M930.7,1344.9v-22.0M930.7,902.2v22.0M1105.1,1344.9v-22.0M1105.1,902.2v22.0M1279.5,1344.9v-22.0M1279.5,902.2v22.0M1453.8,1344.9v-22.0M1453.8,902.2v22.0M930.7,1344.9h22.0M1488.7,1344.9h-22.0M930.7,1256.4h22.0M1488.7,1256.4h-22.0M930.7,1167.8h22.0M1488.7,1167.8h-22.0M930.7,1079.3h22.0M1488.7,1079.3h-22.0M930.7,990.7h22.0M1488.7,990.7h-22.0M930.7,902.2h22.0M1488.7,902.2h-22.0" stroke="#000" stroke-width="5.0" fill="none"/>
<rect x="930.7" y="902.2" width="558.0" height="442.7" fill="none" stroke="#000" stroke-width="5.3" stroke-linejoin="miter"/>
<text x="115.94" y="515.50" font-family="DejaVu Sans, Liberation Sans, sans-serif" font-size="48.6">0.0</text>
<text x="117.57" y="427.02" font-family="DejaVu Sans, Liberation Sans, sans-serif" font-size="48.6">0.2</text>
<text x="115.44" y="338.54" font-family="DejaVu Sans, Liberation Sans, sans-serif" font-size="48.6">0.4</text>
<text x="115.77" y="250.06" font-family="DejaVu Sans, Liberation Sans, sans-serif" font-size="48.6">0.6</text>
<text x="116.03" y="161.58" font-family="DejaVu Sans, Liberation Sans, sans-serif" font-size="48.6">0.8</text>
<text x="115.94" y="73.10" font-family="DejaVu Sans, Liberation Sans, sans-serif" font-size="48.6">1.0</text>
<text x="167.47" y="551.30" font-family="DejaVu Sans, Liberation Sans, sans-serif" font-size="48.6">0.0</text>
<text x="307.65" y="551.30" font-family="DejaVu Sans, Liberation Sans, sans-serif" font-size="48.6">0.5</text>
<text x="445.75" y="551.30" font-family="DejaVu Sans, Liberation Sans, sans-serif" font-size="48.6">1.0</text>
<text x="585.93" y="551.30" font-family="DejaVu Sans, Liberation Sans, sans-serif" font-size="48.6">1.5</text>
<text x="725.99" y="551.30" font-family="DejaVu Sans, Liberation Sans, sans-serif" font-size="48.6">2.0</text>
<text x="841.04" y="515.50" font-family="DejaVu Sans, Liberation Sans, sans-serif" font-size="48.6">0.0</text>
<text x="842.67" y="427.02" font-family="DejaVu Sans, Liberation Sans, sans-serif" font-size="48.6">0.2</text>
<text x="840.54" y="338.54" font-family="DejaVu Sans, Liberation Sans, sans-serif" font-size="48.6">0.4</text>
<text x="840.87" y="250.06" font-family="DejaVu Sans, Liberation Sans, sans-serif" font-size="48.6">0.6</text>
<text x="841.13" y="161.58" font-family="DejaVu Sans, Liberation Sans, sans-serif" font-size="48.6">0.8</text>
<text x="841.04" y="73.10" font-family="DejaVu Sans, Liberation Sans, sans-serif" font-size="48.6">1.0</text>
<text x="915.75" y="551.30" font-family="DejaVu Sans, Liberation Sans, sans-serif" font-size="48.6">0</text>
<text x="1090.36" y="551.30" font-family="DejaVu Sans, Liberation Sans, sans-serif" font-size="48.6">5</text>
<text x="1247.97" y="551.30" font-family="DejaVu Sans, Liberation Sans, sans-serif" font-size="48.6">10</text>
<text x="1422.86" y="551.30" font-family="DejaVu Sans, Liberation Sans, sans-serif" font-size="48.6">15</text>
<text x="115.94" y="1356.70" font-family="DejaVu Sans, Liberation Sans, sans-serif" font-size="48.6">0.0</text>
<text x="117.57" y="1268.16" font-family="DejaVu Sans, Liberation Sans, sans-serif" font-size="48.6">0.2</text>
<text x="115.44" y="1179.62" font-family="DejaVu Sans, Liberation Sans, sans-serif" font-size="48.6">0.4</text>
<text x="115.77" y="1091.08" font-family="DejaVu Sans, Liberation Sans, sans-serif" font-size="48.6">0.6</text>
<text x="116.03" y="1002.54" font-family="DejaVu Sans, Liberation Sans, sans-serif" font-size="48.6">0.8</text>
<text x="115.94" y="914.00" font-family="DejaVu Sans, Liberation Sans, sans-serif" font-size="48.6">1.0</text>
<text x="167.47" y="1392.50" font-family="DejaVu Sans, Liberation Sans, sans-serif" font-size="48.6">0.0</text>
<text x="307.65" y="1392.50" font-family="DejaVu Sans, Liberation Sans, sans-serif" font-size="48.6">0.5</text>
<text x="445.75" y="1392.50" font-family="DejaVu Sans, Liberation Sans, sans-serif" font-size="48.6">1.0</text>
<text x="585.93" y="1392.50" font-family="DejaVu Sans, Liberation Sans, sans-serif" font-size="48.6">1.5</text>
<text x="725.99" y="1392.50" font-family="DejaVu Sans, Liberation Sans, sans-serif" font-size="48.6">2.0</text>
<text x="841.04" y="1356.70" font-family="DejaVu Sans, Liberation Sans, sans-serif" font-size="48.6">0.0</text>
<text x="842.67" y="1268.16" font-family="DejaVu Sans, Liberation Sans, sans-serif" font-size="48.6">0.2</text>
<text x="840.54" y="1179.62" font-family="DejaVu Sans, Liberation Sans, sans-serif" font-size="48.6">0.4</text>
<text x="840.87" y="1091.08" font-family="DejaVu Sans, Liberation Sans, sans-serif" font-size="48.6">0.6</text>
<text x="841.13" y="1002.54" font-family="DejaVu Sans, Liberation Sans, sans-serif" font-size="48.6">0.8</text>
<text x="841.04" y="914.00" font-family="DejaVu Sans, Liberation Sans, sans-serif" font-size="48.6">1.0</text>
<text x="915.75" y="1392.50" font-family="DejaVu Sans, Liberation Sans, sans-serif" font-size="48.6">0</text>
<text x="1090.36" y="1392.50" font-family="DejaVu Sans, Liberation Sans, sans-serif" font-size="48.6">5</text>
<text x="1247.97" y="1392.50" font-family="DejaVu Sans, Liberation Sans, sans-serif" font-size="48.6">10</text>
<text x="1422.86" y="1392.50" font-family="DejaVu Sans, Liberation Sans, sans-serif" font-size="48.6">15</text>
<text x="228.69" y="37.50" font-family="DejaVu Sans, Liberation Sans, sans-serif" font-size="49">(a)</text>
<text x="311.70" y="37.50" font-family="Latin Modern Math, DejaVu Serif, serif" font-size="50">Υ</text>
<text x="350.56" y="45.20" font-family="Latin Modern Roman, DejaVu Serif, Liberation Serif, serif" font-size="33" font-style="italic">m</text>
<text x="394.20" y="37.50" font-family="Latin Modern Math, DejaVu Serif, serif" font-size="50">=</text>
<text x="441.80" y="37.50" font-family="Latin Modern Math, DejaVu Serif, serif" font-size="50">4</text>
<text x="466.62" y="37.50" font-family="DejaVu Sans, Liberation Sans, sans-serif" font-size="49">,</text>
<text x="498.40" y="37.50" font-family="Latin Modern Math, DejaVu Serif, serif" font-size="50">Υ</text>
<text x="542.12" y="45.20" font-family="Latin Modern Roman, DejaVu Serif, Liberation Serif, serif" font-size="33" font-style="italic">f</text>
<text x="567.50" y="37.50" font-family="Latin Modern Math, DejaVu Serif, serif" font-size="50">=</text>
<text x="614.45" y="37.50" font-family="Latin Modern Math, DejaVu Serif, serif" font-size="50">10</text>
<text x="680.59" y="37.50" font-family="DejaVu Sans, Liberation Sans, sans-serif" font-size="49">Hz</text>
<text x="228.69" y="878.50" font-family="DejaVu Sans, Liberation Sans, sans-serif" font-size="49">(c)</text>
<text x="311.70" y="878.50" font-family="Latin Modern Math, DejaVu Serif, serif" font-size="50">Υ</text>
<text x="350.56" y="886.20" font-family="Latin Modern Roman, DejaVu Serif, Liberation Serif, serif" font-size="33" font-style="italic">m</text>
<text x="394.20" y="878.50" font-family="Latin Modern Math, DejaVu Serif, serif" font-size="50">=</text>
<text x="441.80" y="878.50" font-family="Latin Modern Math, DejaVu Serif, serif" font-size="50">4</text>
<text x="466.62" y="878.50" font-family="DejaVu Sans, Liberation Sans, sans-serif" font-size="49">,</text>
<text x="498.40" y="878.50" font-family="Latin Modern Math, DejaVu Serif, serif" font-size="50">Υ</text>
<text x="542.12" y="886.20" font-family="Latin Modern Roman, DejaVu Serif, Liberation Serif, serif" font-size="33" font-style="italic">f</text>
<text x="567.50" y="878.50" font-family="Latin Modern Math, DejaVu Serif, serif" font-size="50">=</text>
<text x="614.45" y="878.50" font-family="Latin Modern Math, DejaVu Serif, serif" font-size="50">10</text>
<text x="680.59" y="878.50" font-family="DejaVu Sans, Liberation Sans, sans-serif" font-size="49">Hz</text>
<text x="970.19" y="37.50" font-family="DejaVu Sans, Liberation Sans, sans-serif" font-size="49">(b)</text>
<text x="1055.36" y="37.50" font-family="Latin Modern Math, DejaVu Serif, serif" font-size="50" font-style="italic">ρ</text>
<text x="1079.96" y="45.20" font-family="Latin Modern Roman, DejaVu Serif, Liberation Serif, serif" font-size="33" font-style="italic">m</text>
<text x="1123.40" y="37.50" font-family="Latin Modern Math, DejaVu Serif, serif" font-size="50">=</text>
<text x="1170.90" y="37.50" font-family="Latin Modern Math, DejaVu Serif, serif" font-size="50">4/3</text>
<text x="1244.52" y="37.50" font-family="DejaVu Sans, Liberation Sans, sans-serif" font-size="49">,</text>
<text x="1277.16" y="37.50" font-family="Latin Modern Math, DejaVu Serif, serif" font-size="50" font-style="italic">ρ</text>
<text x="1303.73" y="45.20" font-family="Latin Modern Roman, DejaVu Serif, Liberation Serif, serif" font-size="33" font-style="italic">f</text>
<text x="1330.80" y="37.50" font-family="Latin Modern Math, DejaVu Serif, serif" font-size="50">=</text>
<text x="1377.50" y="37.50" font-family="Latin Modern Math, DejaVu Serif, serif" font-size="50">3/2</text>
<text x="970.19" y="878.50" font-family="DejaVu Sans, Liberation Sans, sans-serif" font-size="49">(d)</text>
<text x="1055.36" y="878.50" font-family="Latin Modern Math, DejaVu Serif, serif" font-size="50" font-style="italic">ρ</text>
<text x="1079.96" y="886.20" font-family="Latin Modern Roman, DejaVu Serif, Liberation Serif, serif" font-size="33" font-style="italic">m</text>
<text x="1123.40" y="878.50" font-family="Latin Modern Math, DejaVu Serif, serif" font-size="50">=</text>
<text x="1170.90" y="878.50" font-family="Latin Modern Math, DejaVu Serif, serif" font-size="50">4/3</text>
<text x="1244.52" y="878.50" font-family="DejaVu Sans, Liberation Sans, sans-serif" font-size="49">,</text>
<text x="1277.16" y="878.50" font-family="Latin Modern Math, DejaVu Serif, serif" font-size="50" font-style="italic">ρ</text>
<text x="1303.73" y="886.20" font-family="Latin Modern Roman, DejaVu Serif, Liberation Serif, serif" font-size="33" font-style="italic">f</text>
<text x="1330.80" y="878.50" font-family="Latin Modern Math, DejaVu Serif, serif" font-size="50">=</text>
<text x="1377.50" y="878.50" font-family="Latin Modern Math, DejaVu Serif, serif" font-size="50">3/2</text>
<text x="458.07" y="615.90" font-family="Latin Modern Math, DejaVu Serif, serif" font-size="60.5" font-style="italic">ρ</text>
<text x="491.56" y="624.80" font-family="Latin Modern Roman, DejaVu Serif, Liberation Serif, serif" font-size="42.5" font-style="italic">f</text>
<text x="1103.38" y="625.10" font-family="Latin Modern Math, DejaVu Serif, serif" font-size="61">Υ</text>
<text x="1155.86" y="633.70" font-family="Latin Modern Roman, DejaVu Serif, Liberation Serif, serif" font-size="42.5" font-style="italic">f</text>
<text x="1196.10" y="625.10" font-family="DejaVu Sans, Liberation Sans, sans-serif" font-size="60.5">(Hz)</text>
<text x="458.07" y="1456.90" font-family="Latin Modern Math, DejaVu Serif, serif" font-size="60.5" font-style="italic">ρ</text>
<text x="491.56" y="1465.80" font-family="Latin Modern Roman, DejaVu Serif, Liberation Serif, serif" font-size="42.5" font-style="italic">f</text>
<text x="1103.38" y="1466.10" font-family="Latin Modern Math, DejaVu Serif, serif" font-size="61">Υ</text>
<text x="1155.86" y="1474.70" font-family="Latin Modern Roman, DejaVu Serif, Liberation Serif, serif" font-size="42.5" font-style="italic">f</text>
<text x="1196.10" y="1466.10" font-family="DejaVu Sans, Liberation Sans, sans-serif" font-size="60.5">(Hz)</text>
<text transform="translate(54.9,1219.19) rotate(-90)" font-size="71.5"><tspan font-family="DejaVu Sans, Liberation Sans, sans-serif">probability option 1 </tspan><tspan font-family="Latin Modern Roman, DejaVu Serif, Liberation Serif, serif" font-style="italic">Pr</tspan><tspan font-family="Latin Modern Math, DejaVu Serif, serif">(</tspan><tspan font-family="Latin Modern Roman, DejaVu Serif, Liberation Serif, serif" font-style="italic">opt</tspan><tspan font-family="Latin Modern Math, DejaVu Serif, serif">1)</tspan></text>
<rect x="197.5" y="658.8" width="543.0" height="132.7" rx="8" ry="8" fill="#fff" stroke="#000" stroke-width="2.0"/>
<line x1="222" y1="692.7" x2="281" y2="692.7" stroke="#666666" stroke-width="4.6"/>
<circle cx="224.5" cy="692.7" r="13.80" fill="none" stroke="#666666" stroke-width="2.3"/>
<circle cx="279.2" cy="692.7" r="13.80" fill="none" stroke="#666666" stroke-width="2.3"/>
<line x1="222" y1="753.3" x2="281" y2="753.3" stroke="#ff0000" stroke-width="4.6"/>
<rect x="210.5" y="739.5" width="27.6" height="27.6" fill="none" stroke="#ff0000" stroke-width="2.3" stroke-linejoin="miter"/>
<rect x="264.8" y="739.5" width="27.6" height="27.6" fill="none" stroke="#ff0000" stroke-width="2.3" stroke-linejoin="miter"/>
<line x1="516" y1="692.3" x2="575" y2="692.3" stroke="#000000" stroke-width="4.6"/>
<polygon points="518.1,705.5 504.9,679.0 531.4,679.0" fill="none" stroke="#000000" stroke-width="2.3" stroke-linejoin="miter" stroke-miterlimit="10"/>
<polygon points="572.3,705.5 559.0,679.0 585.5,679.0" fill="none" stroke="#000000" stroke-width="2.3" stroke-linejoin="miter" stroke-miterlimit="10"/>
<line x1="516" y1="752.2" x2="575" y2="752.2" stroke="#0000ff" stroke-width="4.6"/>
<polygon points="518.1,735.2 528.3,752.2 518.1,769.2 507.9,752.2" fill="none" stroke="#0000ff" stroke-width="2.3" stroke-linejoin="miter" stroke-miterlimit="10"/>
<polygon points="572.3,735.2 582.5,752.2 572.3,769.2 562.1,752.2" fill="none" stroke="#0000ff" stroke-width="2.3" stroke-linejoin="miter" stroke-miterlimit="10"/>
<text x="322.16" y="706.00" font-family="Latin Modern Math, DejaVu Serif, serif" font-size="39.5" font-style="italic">ρ</text>
<text x="340.46" y="711.50" font-family="Latin Modern Roman, DejaVu Serif, Liberation Serif, serif" font-size="27" font-style="italic">m</text>
<text x="373.39" y="706.00" font-family="Latin Modern Math, DejaVu Serif, serif" font-size="39.5">=</text>
<text x="409.08" y="706.00" font-family="Latin Modern Math, DejaVu Serif, serif" font-size="39.5">1/3</text>
<text x="322.16" y="766.40" font-family="Latin Modern Math, DejaVu Serif, serif" font-size="39.5" font-style="italic">ρ</text>
<text x="340.46" y="771.90" font-family="Latin Modern Roman, DejaVu Serif, Liberation Serif, serif" font-size="27" font-style="italic">m</text>
<text x="373.39" y="766.40" font-family="Latin Modern Math, DejaVu Serif, serif" font-size="39.5">=</text>
<text x="409.08" y="766.40" font-family="Latin Modern Math, DejaVu Serif, serif" font-size="39.5">1</text>
<text x="616.16" y="706.00" font-family="Latin Modern Math, DejaVu Serif, serif" font-size="39.5" font-style="italic">ρ</text>
<text x="634.46" y="711.50" font-family="Latin Modern Roman, DejaVu Serif, Liberation Serif, serif" font-size="27" font-style="italic">m</text>
<text x="667.39" y="706.00" font-family="Latin Modern Math, DejaVu Serif, serif" font-size="39.5">=</text>
<text x="704.62" y="706.00" font-family="Latin Modern Math, DejaVu Serif, serif" font-size="39.5">2</text>
<text x="616.16" y="766.40" font-family="Latin Modern Math, DejaVu Serif, serif" font-size="39.5" font-style="italic">ρ</text>
<text x="634.46" y="771.90" font-family="Latin Modern Roman, DejaVu Serif, Liberation Serif, serif" font-size="27" font-style="italic">m</text>
<text x="667.39" y="766.40" font-family="Latin Modern Math, DejaVu Serif, serif" font-size="39.5">=</text>
<text x="704.94" y="766.40" font-family="Latin Modern Math, DejaVu Serif, serif" font-size="39.5">3</text>
<rect x="883.5" y="659.5" width="637.5" height="131.0" rx="8" ry="8" fill="#fff" stroke="#000" stroke-width="2.0"/>
<line x1="908.6" y1="692.7" x2="968.1" y2="692.7" stroke="#666666" stroke-width="4.6"/>
<circle cx="911.2" cy="692.7" r="13.80" fill="none" stroke="#666666" stroke-width="2.3"/>
<circle cx="965.8" cy="692.7" r="13.80" fill="none" stroke="#666666" stroke-width="2.3"/>
<line x1="908.6" y1="751.8" x2="968.1" y2="751.8" stroke="#ff0000" stroke-width="4.6"/>
<rect x="897.2" y="738.0" width="27.6" height="27.6" fill="none" stroke="#ff0000" stroke-width="2.3" stroke-linejoin="miter"/>
<rect x="951.4" y="738.0" width="27.6" height="27.6" fill="none" stroke="#ff0000" stroke-width="2.3" stroke-linejoin="miter"/>
<line x1="1231.5" y1="692.3" x2="1289.5" y2="692.3" stroke="#000000" stroke-width="4.6"/>
<polygon points="1233.9,705.5 1220.7,679.0 1247.2,679.0" fill="none" stroke="#000000" stroke-width="2.3" stroke-linejoin="miter" stroke-miterlimit="10"/>
<polygon points="1286.8,705.5 1273.5,679.0 1300.0,679.0" fill="none" stroke="#000000" stroke-width="2.3" stroke-linejoin="miter" stroke-miterlimit="10"/>
<line x1="1231.5" y1="752.2" x2="1289.5" y2="752.2" stroke="#0000ff" stroke-width="4.6"/>
<polygon points="1233.9,735.2 1244.1,752.2 1233.9,769.2 1223.7,752.2" fill="none" stroke="#0000ff" stroke-width="2.3" stroke-linejoin="miter" stroke-miterlimit="10"/>
<polygon points="1286.8,735.2 1297.0,752.2 1286.8,769.2 1276.6,752.2" fill="none" stroke="#0000ff" stroke-width="2.3" stroke-linejoin="miter" stroke-miterlimit="10"/>
<text x="1008.09" y="706.30" font-family="Latin Modern Math, DejaVu Serif, serif" font-size="39.5">Υ</text>
<text x="1037.36" y="711.80" font-family="Latin Modern Roman, DejaVu Serif, Liberation Serif, serif" font-size="27" font-style="italic">m</text>
<text x="1071.89" y="706.30" font-family="Latin Modern Math, DejaVu Serif, serif" font-size="39.5">=</text>
<text x="1108.34" y="706.30" font-family="Latin Modern Math, DejaVu Serif, serif" font-size="39.5">3</text>
<text x="1126.00" y="706.30" font-family="Latin Modern Math, DejaVu Serif, serif" font-size="39.5">.</text>
<text x="1144.83" y="706.30" font-family="Latin Modern Math, DejaVu Serif, serif" font-size="39.5">5</text>
<text x="1008.09" y="765.20" font-family="Latin Modern Math, DejaVu Serif, serif" font-size="39.5">Υ</text>
<text x="1037.36" y="770.70" font-family="Latin Modern Roman, DejaVu Serif, Liberation Serif, serif" font-size="27" font-style="italic">m</text>
<text x="1071.89" y="765.20" font-family="Latin Modern Math, DejaVu Serif, serif" font-size="39.5">=</text>
<text x="1108.03" y="765.20" font-family="Latin Modern Math, DejaVu Serif, serif" font-size="39.5">5</text>
<text x="1126.00" y="765.20" font-family="Latin Modern Math, DejaVu Serif, serif" font-size="39.5">.</text>
<text x="1144.83" y="765.20" font-family="Latin Modern Math, DejaVu Serif, serif" font-size="39.5">25</text>
<text x="1330.99" y="706.30" font-family="Latin Modern Math, DejaVu Serif, serif" font-size="39.5">Υ</text>
<text x="1360.26" y="711.80" font-family="Latin Modern Roman, DejaVu Serif, Liberation Serif, serif" font-size="27" font-style="italic">m</text>
<text x="1394.79" y="706.30" font-family="Latin Modern Math, DejaVu Serif, serif" font-size="39.5">=</text>
<text x="1431.39" y="706.30" font-family="Latin Modern Math, DejaVu Serif, serif" font-size="39.5">7</text>
<text x="1330.99" y="765.20" font-family="Latin Modern Math, DejaVu Serif, serif" font-size="39.5">Υ</text>
<text x="1360.26" y="770.70" font-family="Latin Modern Roman, DejaVu Serif, Liberation Serif, serif" font-size="27" font-style="italic">m</text>
<text x="1394.79" y="765.20" font-family="Latin Modern Math, DejaVu Serif, serif" font-size="39.5">=</text>
<text x="1430.84" y="765.20" font-family="Latin Modern Math, DejaVu Serif, serif" font-size="39.5">8</text>
<text x="1447.40" y="765.20" font-family="Latin Modern Math, DejaVu Serif, serif" font-size="39.5">.</text>
<text x="1463.69" y="765.20" font-family="Latin Modern Math, DejaVu Serif, serif" font-size="39.5">75</text>
<text x="568.24" y="318.50" font-family="DejaVu Sans, Liberation Sans, sans-serif" font-size="49.5">LCA</text>
<text x="1293.34" y="318.50" font-family="DejaVu Sans, Liberation Sans, sans-serif" font-size="49.5">LCA</text>
<text x="539.40" y="1160.70" font-family="DejaVu Sans, Liberation Sans, sans-serif" font-size="49.5">mDDM</text>
<text x="1264.50" y="1160.70" font-family="DejaVu Sans, Liberation Sans, sans-serif" font-size="49.5">mDDM</text>
</svg>
</body></html>
